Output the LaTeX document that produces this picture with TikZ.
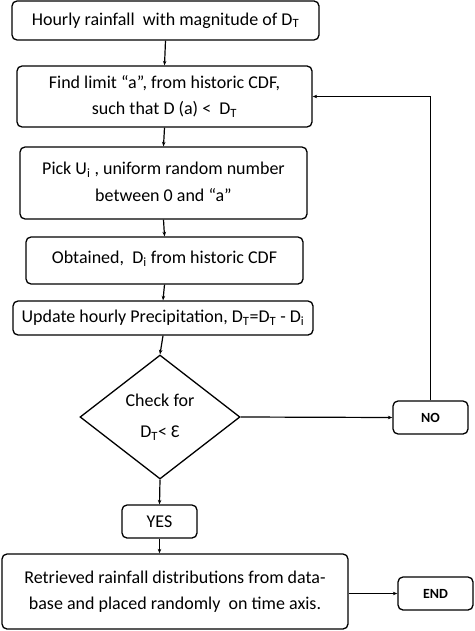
\documentclass[tikz,border=0pt]{standalone}
\usepackage{fontspec}
\setmainfont{Carlito}
\usetikzlibrary{shapes.geometric,arrows.meta}
\begin{document}
\begin{tikzpicture}[x=1pt,y=-1pt,
  box/.style={draw, line width=1.3pt, rounded corners=5pt, inner sep=0pt, align=center, font=\fontsize{18}{26}\selectfont},
  small/.style={box, font=\fontsize{14}{17}\selectfont\bfseries},
  arr/.style={line width=1.2pt, -{Stealth[length=4.5pt,width=3.5pt]}},
  ln/.style={line width=1.3pt}]
\useasboundingbox (0,0) rectangle (474,631);
\node[box, minimum width=307pt, minimum height=39pt] (b1) at (165.5,20.5) {\raisebox{2pt}{Hourly rainfall\ \ with magnitude of D\textsubscript{T}}};
\node[box, minimum width=295pt, minimum height=61pt] (b2) at (164.5,96.5) {Find limit “a”, from historic CDF,\\such that D (a) <\ \ D\textsubscript{T}};
\node[box, minimum width=287pt, minimum height=72pt] (b3) at (163.5,183) {\raisebox{4pt}{\begin{tabular}{@{}c@{}}Pick U\textsubscript{i} , uniform random number\\[1pt] between 0 and “a”\end{tabular}}};
\node[box, minimum width=277pt, minimum height=47pt] (b4) at (164.5,260.5) {\raisebox{6pt}{Obtained,\ \ D\textsubscript{i} from historic CDF}};
\node[box, minimum width=300pt, minimum height=34pt] (b5) at (163,318) {Update hourly Precipitation, D\textsubscript{T}=D\textsubscript{T} - D\textsubscript{i}};
\node[draw, ln, diamond, aspect=1.29, minimum width=160pt, minimum height=124pt, inner sep=0pt, align=center, font=\fontsize{18}{31}\selectfont] (dia) at (160,417) {Check for\\D\textsubscript{T}< Ɛ};
\node[small, minimum width=75pt, minimum height=33pt] (no) at (430.5,417.5) {NO};
\node[box, minimum width=75pt, minimum height=33pt] (yes) at (159.5,521.5) {YES};
\node[box, minimum width=346pt, minimum height=75pt] (fin) at (175,591.5) {\raisebox{9pt}{\begin{tabular}{@{}c@{}}Retrieved rainfall distributions from data-\\base and placed randomly\ \ on time axis.\end{tabular}}};
\node[small, minimum width=75pt, minimum height=33pt] (end) at (435.5,593.5) {END};
\draw[arr] (b1.south) -- (b2.north);
\draw[arr] (b2.south) -- (b3.north);
\draw[arr] (b3.south) -- (b4.north);
\draw[arr] (b4.south) -- (b5.north);
\draw[arr] (b5.south) -- (dia.north);
\draw[arr] (dia.east) -- (no.west);
\draw[arr] (no.north) |- (b2.east);
\draw[arr] (dia.south) -- (yes.north);
\draw[arr] (yes.south) -- (yes.south |- fin.north);
\draw[arr] (fin.east |- end.west) -- (end.west);
\end{tikzpicture}
\end{document}
